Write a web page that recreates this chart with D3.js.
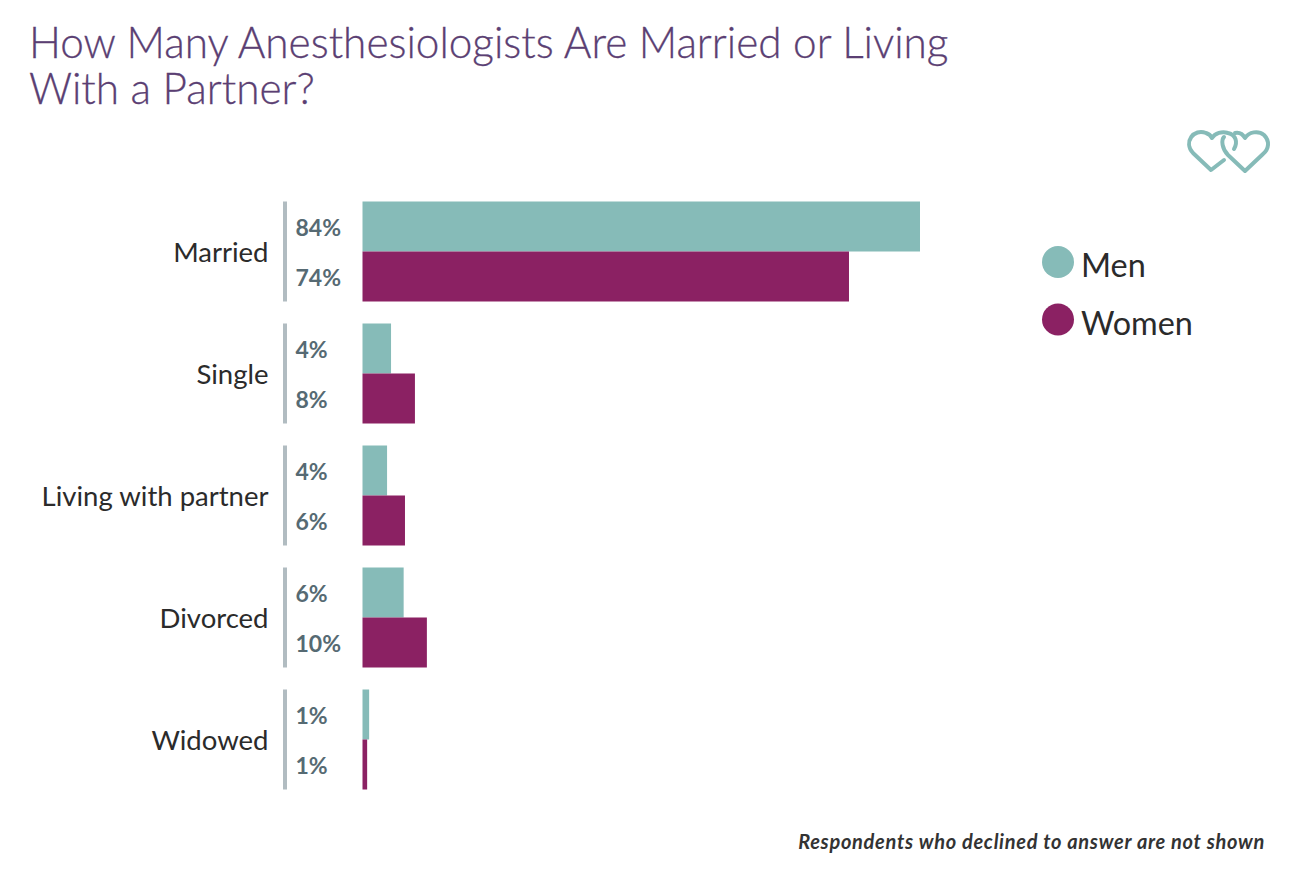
<!DOCTYPE html>
<html>
<head>
<meta charset="utf-8">
<script src="https://cdn.jsdelivr.net/npm/d3@7"></script>
<style>
  html, body { margin: 0; padding: 0; background: #fff; }
  svg { display: block; font-family: Lato, "Open Sans", sans-serif; }
</style>
</head>
<body>
<svg id="chart" width="1290" height="878"></svg>
<script>
const categories = ["Married", "Single", "Living with partner", "Divorced", "Widowed"];
const seriesNames = ["Men", "Women"];
const menBars = [84, 4.3, 3.7, 6.2, 1];
const womenBars = [73.3, 7.9, 6.4, 9.7, 0.7];
const menLabels = ["84%", "4%", "4%", "6%", "1%"];
const womenLabels = ["74%", "8%", "6%", "10%", "1%"];
const titleLines = ["How Many Anesthesiologists Are Married or Living", "With a Partner?"];
const note = "Respondents who declined to answer are not shown";

const colors = { Men: "#86bbb8", Women: "#8b2163" };
const svg = d3.select("#chart");

svg.append("text")
  .attr("font-size", 42.3)
  .attr("font-weight", 300)
  .attr("fill", "#5b3f73")
  .attr("stroke", "#5b3f73")
  .attr("stroke-width", 0.3)
  .selectAll("tspan")
  .data(titleLines)
  .join("tspan")
  .attr("x", 29)
  .attr("y", (d, i) => 58 + i * 46)
  .text((d) => d);

const x = d3.scaleLinear().domain([0, 84]).range([362.5, 920]);
const y = d3.scaleBand().domain(categories).range([201.5, 789.5]).paddingInner(22 / 122);
const y2 = d3.scaleBand().domain(seriesNames).range([0, y.bandwidth()]);

const rows = categories.map((c, i) => ({
  category: c,
  values: [
    { name: "Men", bar: menBars[i], label: menLabels[i] },
    { name: "Women", bar: womenBars[i], label: womenLabels[i] },
  ],
}));

// category labels
const yAxis = d3.axisLeft(y).tickSize(0).tickPadding(0);
svg.append("g")
  .attr("transform", "translate(268.5,1.5)")
  .call(yAxis)
  .call((g) => g.select(".domain").remove())
  .call((g) => g.selectAll("text")
    .attr("font-family", "Lato, sans-serif")
    .attr("font-size", 27.5)
    .attr("fill", "#2b2b2b"));

const group = svg.selectAll(".group")
  .data(rows)
  .join("g")
  .attr("class", "group")
  .attr("transform", (d) => `translate(0,${y(d.category)})`);

group.append("rect")
  .attr("x", 283)
  .attr("width", 4)
  .attr("height", y.bandwidth())
  .attr("fill", "#b1bcc1");

group.selectAll("rect.bar")
  .data((d) => d.values)
  .join("rect")
  .attr("class", "bar")
  .attr("x", x(0))
  .attr("y", (d) => y2(d.name))
  .attr("width", (d) => x(d.bar) - x(0))
  .attr("height", y2.bandwidth())
  .attr("fill", (d) => colors[d.name]);

group.selectAll("text.value")
  .data((d) => d.values)
  .join("text")
  .attr("class", "value")
  .attr("x", 295.5)
  .attr("y", (d) => y2(d.name) + y2.bandwidth() / 2 + 1.5)
  .attr("dy", "0.35em")
  .attr("font-size", 23)
  .attr("font-weight", 700)
  .attr("fill", "#566a73")
  .text((d) => d.label);

// legend
const legend = svg.selectAll(".legend")
  .data(seriesNames)
  .join("g")
  .attr("class", "legend")
  .attr("transform", (d, i) => `translate(1058,${262 + i * 57.5})`);

legend.append("circle").attr("r", 16).attr("fill", (d) => colors[d]);
legend.append("text")
  .attr("x", 23)
  .attr("dy", "0.37em")
  .attr("y", 3)
  .attr("font-size", 32.4)
  .attr("font-weight", 400)
  .attr("fill", "#2b2b2b")
  .text((d) => d);

// hearts icon
const icon = svg.append("g")
  .attr("fill", "none")
  .attr("stroke", "#86bbb8")
  .attr("stroke-width", 4)
  .attr("stroke-linecap", "round")
  .attr("stroke-linejoin", "round");
icon.append("path").attr("d",
  "M1224 160 L1211 170 L1193 153 C1183 142 1194 128 1206 133 C1209 134 1211 136 1212 138 C1215 133 1222 131 1228 133 C1236 135 1238 142 1234 149");
icon.append("path").attr("d",
  "M1235 133 C1241 132 1243 135 1245 138 C1249 132 1258 130 1264 135 C1270 141 1269 149 1263 154 L1245 171 L1228 155 C1222 149 1221 140 1224 137");

svg.append("text")
  .attr("x", 1265)
  .attr("y", 848.5)
  .attr("text-anchor", "end")
  .attr("font-size", 20)
  .attr("letter-spacing", 0.7)
  .attr("font-style", "italic")
  .attr("font-weight", 700)
  .attr("fill", "#333")
  .text(note);
</script>
</body>
</html>
